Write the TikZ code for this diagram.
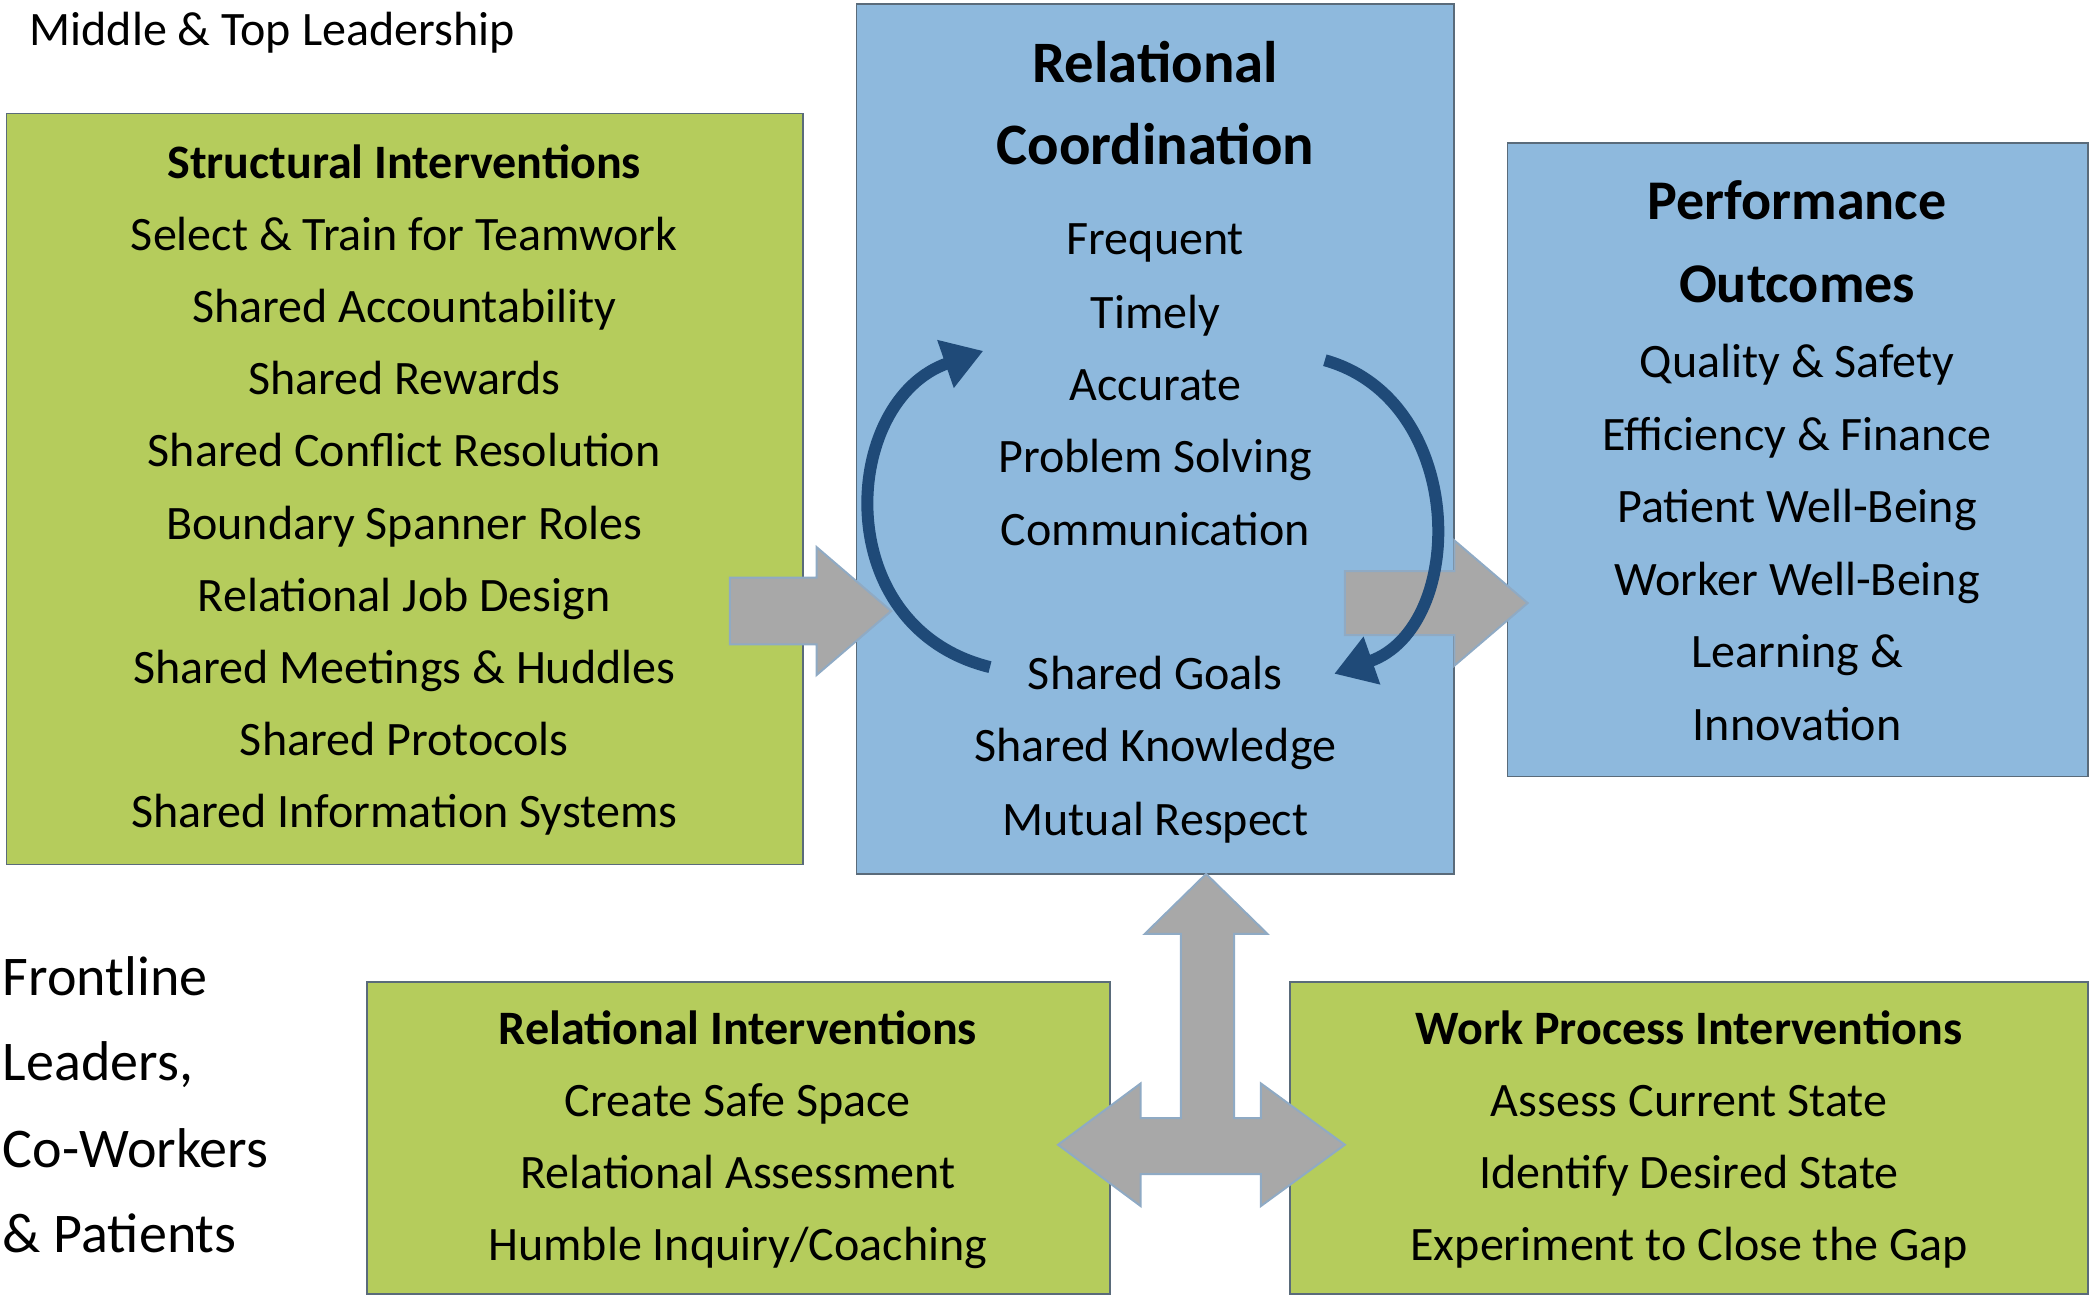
\documentclass[tikz,border=0pt]{standalone}
\usepackage{fontspec}
\setmainfont{Carlito}
\usetikzlibrary{arrows.meta}
\definecolor{gr}{HTML}{B5CC5C}
\definecolor{bl}{HTML}{8EB9DD}
\definecolor{bord}{HTML}{5A6B7A}
\definecolor{ga}{HTML}{A8A8A8}
\definecolor{gab}{HTML}{8FAAC4}
\definecolor{db}{HTML}{1F4A78}
\tikzset{
 gbox/.style={draw=bord,fill=gr,line width=1.2pt},
 bbox/.style={draw=bord,fill=bl,line width=1.2pt},
 ln/.style={font=\fontsize{36}{40}\selectfont,text height=26pt,text depth=8pt,inner sep=0pt},
 hd/.style={font=\fontsize{36}{40}\selectfont\bfseries,text height=26pt,text depth=8pt,inner sep=0pt},
 bhd/.style={font=\fontsize{44}{48}\selectfont\bfseries,text height=32pt,text depth=9pt,inner sep=0pt},
 garrow/.style={draw=gab,fill=ga,line width=1.5pt},
 carrow/.style={db,line width=9pt,-{Triangle[length=30pt,width=36pt]}}
}
\begin{document}
\begin{tikzpicture}[x=1pt,y=-1pt]
\useasboundingbox (0,0) rectangle (1568,975);
\node[ln,anchor=west] (mt) at (22,25) {Middle \& Top Leadership};
\node[ln,anchor=west,font=\fontsize{42}{46}\selectfont] (fl1) at (2,737) {Frontline};
\node[ln,anchor=west,font=\fontsize{42}{46}\selectfont] (fl2) at (2,801) {Leaders,};
\node[ln,anchor=west,font=\fontsize{42}{46}\selectfont] (fl3) at (2,866) {Co-Workers};
\node[ln,anchor=west,font=\fontsize{42}{46}\selectfont] (fl4) at (2,930) {\& Patients};
% boxes
\path[gbox] (5,85) rectangle (602,648);
\path[bbox] (642,3) rectangle (1090,655);
\path[bbox] (1130,107) rectangle (1565,582);
\path[gbox] (275,736) rectangle (832,970);
\path[gbox] (967,736) rectangle (1565,970);
% structural
\node[hd] (s0) at (303,125) {Structural Interventions};
\foreach \t [count=\i] in {Select \& Train for Teamwork,Shared Accountability,Shared Rewards,Shared Conflict Resolution,Boundary Spanner Roles,Relational Job Design,Shared Meetings \& Huddles,Shared Protocols,Shared Information Systems}
 \node[ln] (s\i) at (303,125+54*\i) {\t};
% RC
\node[bhd] (r0) at (866,50) {Relational};
\node[bhd] (r00) at (866,112) {Coordination};
\foreach \t/\y [count=\i] in {Frequent/182,Timely/237,Accurate/291,Problem Solving/345,Communication/400,Shared Goals/508,Shared Knowledge/562,Mutual Respect/617}
 \node[ln] (r\i) at (866,\y) {\t};
% perf
\node[bhd,font=\fontsize{42}{46}\selectfont\bfseries] (p0) at (1347,153) {Performance};
\node[bhd,font=\fontsize{42}{46}\selectfont\bfseries] (p00) at (1347,215) {Outcomes};
\foreach \t [count=\i] in {Quality \& Safety,Efficiency \& Finance,Patient Well-Being,Worker Well-Being,Learning \&,Innovation}
 \node[ln] (p\i) at (1347,220+54.3*\i) {\t};
% relational interventions
\node[hd] (ri0) at (553,774) {Relational Interventions};
\foreach \t [count=\i] in {Create Safe Space,Relational Assessment,Humble Inquiry/Coaching}
 \node[ln] (ri\i) at (553,774+54*\i) {\t};
\node[hd] (w0) at (1266,774) {Work Process Interventions};
\foreach \t [count=\i] in {Assess Current State,Identify Desired State,Experiment to Close the Gap}
 \node[ln] (w\i) at (1266,774+54*\i) {\t};
% gray arrows
\path[garrow] (547,433) -- (612,433) -- (612,410) -- (668,458) -- (612,506) -- (612,483) -- (547,483) -- cycle;
\path[garrow] (1008,428) -- (1090,428) -- (1090,405) -- (1145,452) -- (1090,499) -- (1090,476) -- (1008,476) -- cycle;
\path[garrow] (885,838) -- (885,700) -- (858,700) -- (904,655) -- (950,700) -- (925,700) -- (925,838) -- (945,838) -- (945,812) -- (1008,858) -- (945,904) -- (945,880) -- (855,880) -- (855,904) -- (793,858) -- (855,812) -- (855,838) -- cycle;
% curved arrows
\draw[carrow] (742,500) .. controls (620,470) and (630,300) .. (737,263);
\draw[carrow] (993,270) .. controls (1100,300) and (1100,470) .. (1000,505);
\end{tikzpicture}
\end{document}
